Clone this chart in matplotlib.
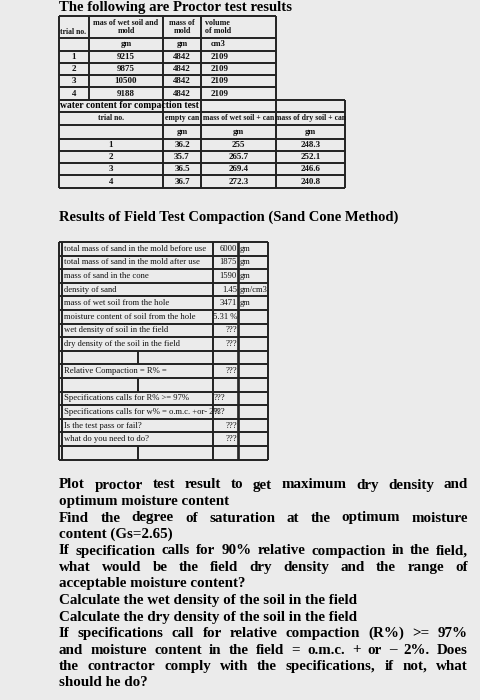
import matplotlib
matplotlib.use("Agg")
import matplotlib.pyplot as plt

BG = "#ebebeb"
SERIF = "Liberation Serif"

# Proctor test table
proctor_head = ["trial no.", "mas of wet soil and\nmold", "mass of\nmold", "volume\nof mold"]
proctor_units = ["", "gm", "gm", "cm3"]
trials = ["1", "2", "3", "4"]
wet_soil_mold = ["9215", "9875", "10500", "9188"]
mold_mass = ["4842", "4842", "4842", "4842"]
mold_volume = ["2109", "2109", "2109", "2109"]

# water content table
wc_head = ["trial no.", "empty can", "mass of wet soil + can", "mass of dry soil + can"]
empty_can = ["36.2", "35.7", "36.5", "36.7"]
wet_can = ["255", "265.7", "269.4", "272.3"]
dry_can = ["248.3", "252.1", "246.6", "240.8"]

# field test table: (label, value, unit, value alignment)
field_rows = [
    ("total mass of sand in the mold before use", "6000", "gm", "r"),
    ("total mass of sand in the mold after use", "1875", "gm", "r"),
    ("mass of sand in the cone", "1590", "gm", "r"),
    ("density of sand", "1.45", "gm/cm3", "r"),
    ("mass of wet soil from the hole", "3471", "gm", "r"),
    ("moisture content of soil from the hole", "5.31 %", "", "l"),
    ("wet density of soil in the field", "???", "", "r"),
    ("dry density of the soil in the field", "???", "", "r"),
    None,
    ("Relative Compaction = R% =", "???", "", "r"),
    None,
    ("Specifications calls for R% >= 97%", "???", "", "l"),
    ("Specifications calls for w% = o.m.c. +or- 2%", "???", "", "l"),
    ("Is the test pass or fail?", "???", "", "r"),
    ("what do you need to do?", "???", "", "r"),
    None,
]

paragraph = [
    ("Plot proctor test result to get maximum dry density and", True),
    ("optimum moisture content", False),
    ("Find the degree of saturation at the optimum moisture", True),
    ("content (Gs=2.65)", False),
    ("If specification calls for 90% relative compaction in the field,", True),
    ("what would be the field dry density and the range of", True),
    ("acceptable moisture content?", False),
    ("Calculate the wet density of the soil in the field", False),
    ("Calculate the dry density of the soil in the field", False),
    ("If specifications call for relative compaction (R%) >= 97%", True),
    ("and moisture content in the field = o.m.c. + or \u2013 2%. Does", True),
    ("the contractor comply with the specifications, if not, what", True),
    ("should he do?", False),
]

fig = plt.figure(figsize=(4.81, 7.0), dpi=100, facecolor=BG)
ax = fig.add_axes([0, 0, 1, 1])
ax.set_xlim(0, 481); ax.set_ylim(700, 0); ax.axis("off")
ax.set_facecolor(BG)

LC = "#222222"


def hline(y, x0, x1, lw=1.4):
    ax.plot([x0, x1], [y, y], color=LC, lw=lw, solid_capstyle="butt")


def vline(x, y0, y1, lw=1.4):
    ax.plot([x, x], [y0, y1], color=LC, lw=lw, solid_capstyle="butt")


def txt(x, y, s, ha="center", fs=5.5, bold=True):
    ax.text(x, y, s, ha=ha, va="center", fontsize=fs, family=SERIF,
            fontweight="bold" if bold else "normal", color="#111111", linespacing=1.0)


ax.text(59, 8, "The following are Proctor test results", ha="left", va="center",
        fontsize=10.6, family=SERIF, fontweight="bold")

# --- proctor table ---
xs = [59, 89, 163, 201, 276]
ys = [16, 38, 51, 63, 75, 87, 100]
for y in ys:
    hline(y, xs[0], xs[-1])
for x in xs:
    vline(x, ys[0], ys[-1])
centers = [(xs[i] + xs[i + 1]) / 2 for i in range(4)]
for i, h in enumerate(proctor_head):
    if i == 3:
        txt(xs[3] + 4, 27, h, ha="left", fs=5.8)
    elif i == 0:
        txt(xs[0] + 1, 32, h, ha="left", fs=5.6)
    else:
        txt(centers[i], 27, h, fs=5.8)
for i, u in enumerate(proctor_units):
    txt(xs[3] + 10 if i == 3 else centers[i], 44.5, u, ha="left" if i == 3 else "center", fs=6)
for r in range(4):
    y = (ys[r + 2] + ys[r + 3]) / 2
    txt(centers[0], y, trials[r], fs=6.5)
    txt(centers[1], y, wet_soil_mold[r], fs=6.5)
    txt(centers[2], y, mold_mass[r], fs=6.5)
    txt(xs[3] + 10, y, mold_volume[r], ha="left", fs=6.5)

# --- water content table ---
xw = [59, 163, 201, 276, 345]
yw = [100, 112, 125, 139, 151, 163, 175, 188]
for y in yw:
    hline(y, xw[0], xw[-1])
for x in xw:
    vline(x, yw[0], yw[-1])
ax.text(60, 106, "water content for compaction test", ha="left", va="center",
        fontsize=6.9, family=SERIF, fontweight="bold")
wc_cent = [(xw[i] + xw[i + 1]) / 2 for i in range(4)]
for i, h in enumerate(wc_head):
    txt(wc_cent[i], 118.5, h, fs=5.6)
for i in range(1, 4):
    txt(wc_cent[i], 132, "gm", fs=6)
for r in range(4):
    y = (yw[r + 3] + yw[r + 4]) / 2
    txt(wc_cent[0], y, trials[r], fs=6.5)
    txt(wc_cent[1], y, empty_can[r], fs=6.5)
    txt(wc_cent[2], y, wet_can[r], fs=6.5)
    txt(wc_cent[3], y, dry_can[r], fs=6.5)

# --- field test ---
ax.text(59, 217, "Results of Field Test Compaction (Sand Cone Method)", ha="left",
        va="center", fontsize=10.5, family=SERIF, fontweight="bold")
fy0, dy = 242, 13.6
n = len(field_rows)
fy = [fy0 + i * dy for i in range(n + 1)]
for y in fy:
    hline(y, 59, 268)
vline(59, fy[0], fy[-1]); vline(62.5, fy[0], fy[-1])
for x in (213, 238, 239.5, 268):
    vline(x, fy[0], fy[-1], lw=1.2 if x in (238, 239.5) else 1.4)
for i, row in enumerate(field_rows):
    y = (fy[i] + fy[i + 1]) / 2
    if row is None:
        vline(138, fy[i], fy[i + 1])
        continue
    label, val, unit, al = row
    txt(64, y, label, ha="left", fs=6.2, bold=False)
    if al == "r":
        txt(237, y, val, ha="right", fs=6.2, bold=False)
    else:
        txt(213.5, y, val, ha="left", fs=6.2, bold=False)
    if unit:
        txt(240, y, unit, ha="left", fs=6.2, bold=False)

# --- question text, justified ---
fig.canvas.draw()
rend = fig.canvas.get_renderer()
inv = ax.transData.inverted()
X0, X1 = 59, 468
FS = 10.8
for k, (line, justify) in enumerate(paragraph):
    y = 485 + k * 16.5
    if not justify:
        ax.text(X0, y, line, ha="left", va="center", fontsize=FS, family=SERIF,
                fontweight="bold")
        continue
    words = line.split(" ")
    arts = [ax.text(0, y, w, ha="left", va="center", fontsize=FS, family=SERIF,
                    fontweight="bold") for w in words]
    widths = []
    for a in arts:
        bb = a.get_window_extent(rend)
        p0 = inv.transform((bb.x0, bb.y0)); p1 = inv.transform((bb.x1, bb.y0))
        widths.append(p1[0] - p0[0])
    gap = (X1 - X0 - sum(widths)) / max(len(words) - 1, 1)
    x = X0
    for a, w in zip(arts, widths):
        a.set_x(x)
        x += w + gap

fig.savefig("out.png", dpi=100, facecolor=BG)
